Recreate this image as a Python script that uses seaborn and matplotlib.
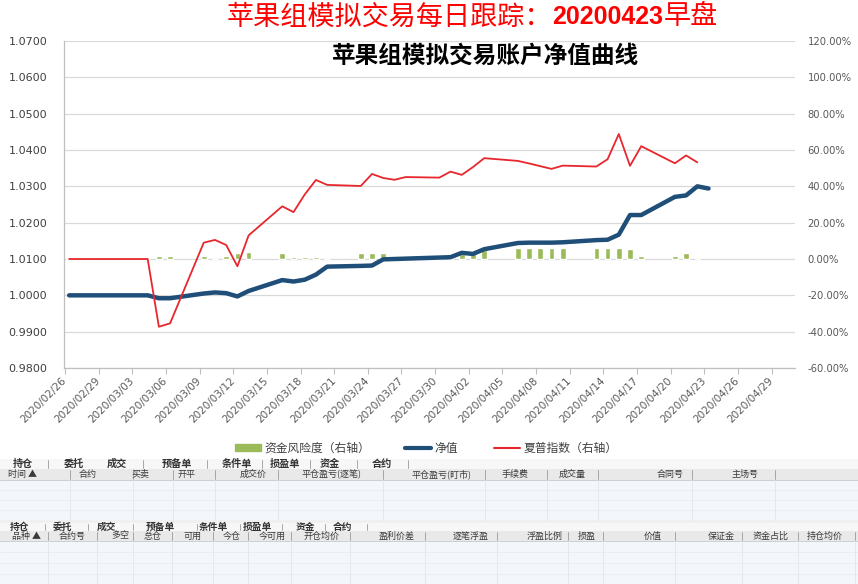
import numpy as np
import pandas as pd
import matplotlib
matplotlib.use('Agg')
import matplotlib.pyplot as plt
import matplotlib.dates as mdates
from matplotlib.lines import Line2D
from matplotlib.patches import Patch, Rectangle
from matplotlib.ticker import FuncFormatter, FormatStrFormatter
import seaborn as sns

# data
dates = ['2020-02-26', '2020-02-27', '2020-02-28', '2020-03-02', '2020-03-03', '2020-03-04',
         '2020-03-05', '2020-03-06', '2020-03-09', '2020-03-10', '2020-03-11', '2020-03-12',
         '2020-03-13', '2020-03-16', '2020-03-17', '2020-03-18', '2020-03-19', '2020-03-20',
         '2020-03-23', '2020-03-24', '2020-03-25', '2020-03-26', '2020-03-27', '2020-03-30',
         '2020-03-31', '2020-04-01', '2020-04-02', '2020-04-03', '2020-04-06', '2020-04-07',
         '2020-04-08', '2020-04-09', '2020-04-10', '2020-04-13', '2020-04-14', '2020-04-15',
         '2020-04-16', '2020-04-17', '2020-04-20', '2020-04-21', '2020-04-22', '2020-04-23']

net_value = [1.0000, 1.0000, 1.0000, 1.0000, 1.0000, 1.0000,
             0.9992, 0.9992, 1.0005, 1.0008, 1.0006, 0.9997,
             1.0012, 1.0042, 1.0038, 1.0043, 1.0057, 1.0079,
             1.0081, 1.0082, 1.0099, 1.0100, 1.0101, 1.0104,
             1.0105, 1.0117, 1.0114, 1.0127, 1.0144, 1.0145,
             1.0145, 1.0145, 1.0146, 1.0152, 1.0153, 1.0167,
             1.0221, 1.0221, 1.0271, 1.0275, 1.0300, 1.0294]

# 夏普指数 (%), right axis
sharpe_pct = [0, 0, 0, 0, 0, 0,
              -37.3, -35.4, 9.0, 10.5, 7.7, -4.0,
              13.0, 29.0, 25.8, 35.5, 43.5, 40.8,
              40.2, 46.8, 44.6, 43.6, 45.1, 44.8,
              48.1, 46.3, 50.6, 55.5, 54.0, 52.6,
              51.1, 49.6, 51.4, 50.9, 54.9, 68.8,
              51.3, 62.1, 52.7, 57.0, 53.2, np.nan]

# 资金风险度 (%), right axis
risk_pct = [0, 0, 0, 0, 0, 0,
            1.5, 1.5, 1.4, 0, 1.4, 3.2,
            4.1, 3.2, 1.3, 1.3, 1.3, 0,
            3.2, 3.2, 3.2, 0, 0, 0,
            0, 3.0, 4.5, 5.2, 6.3, 6.3,
            6.3, 6.3, 6.3, 6.3, 6.3, 6.3,
            5.7, 1.6, 1.6, 3.2, 0, np.nan]

title_cn = '苹果组模拟交易每日跟踪：'
title_num = '20200423'
title_tail = '早盘'
chart_title = '苹果组模拟交易账户净值曲线'
legend_labels = ['资金风险度（右轴）', '净值', '夏普指数（右轴）']

tab_names = ['持仓', '委托', '成交', '预备单', '条件单', '损盈单', '资金', '合约']
trade_cols = ['时间 ▲', '合约', '买卖', '开平', '成交价', '平仓盈亏(逐笔)', '平仓盈亏(盯市)',
              '手续费', '成交量', '合同号', '主场号']
pos_cols = ['品种 ▲', '合约号', '多空', '总仓', '可用', '今仓', '今可用', '开仓均价', '盈利价差',
            '逐笔浮盈', '浮盈比例', '损盈', '价值', '保证金', '资金占比', '持仓均价']

sns.set_theme(style='white')
plt.rcParams['font.family'] = ['DejaVu Sans', 'Noto Sans CJK SC']
CJK = ['Noto Sans CJK SC', 'DejaVu Sans']

df = pd.DataFrame({'date': pd.to_datetime(dates), 'net': net_value,
                   'sharpe': sharpe_pct, 'risk': risk_pct})
# excel date axis puts points a bit right of the day tick
df['xpos'] = df['date'] + pd.Timedelta(hours=9)

W, H = 858, 584
fig = plt.figure(figsize=(W / 100, H / 100), dpi=100)
ax = fig.add_axes([64 / W, 1 - 368 / H, (795 - 64) / W, (368 - 41) / H])
axr = ax.twinx()
axs = ax.twinx()
axr.set_zorder(1)
ax.set_zorder(2)
axs.set_zorder(3)
ax.patch.set_visible(False)

# bars on right axis (behind)
axr.bar(df['xpos'], df['risk'], width=0.5, color='#9BBB59', zorder=3)
axr.set_ylim(-60, 120)
axr.set_yticks(np.arange(-60, 121, 20))
axr.yaxis.set_major_formatter(FuncFormatter(lambda v, p: f'{v:.2f}%'))
axr.tick_params(axis='y', length=0, pad=9, labelsize=7.2, labelcolor='#595959')
axr.grid(axis='y', color='#d9d9d9', linewidth=0.9)
axr.set_axisbelow(True)
for s in axr.spines.values():
    s.set_visible(False)

# net value on left axis
sns.lineplot(data=df, x='xpos', y='net', ax=ax, color='#1F4E79', linewidth=3.2,
             solid_joinstyle='round', solid_capstyle='round')
ax.set_ylim(0.98, 1.07)
ax.set_yticks(np.arange(0.98, 1.0701, 0.01))
ax.yaxis.set_major_formatter(FormatStrFormatter('%.4f'))
ax.tick_params(axis='y', length=0, pad=12, labelsize=8, labelcolor='#404040')
ax.set_xlim(pd.Timestamp('2020-02-25 22:00'), pd.Timestamp('2020-05-01 02:00'))
ax.set_xticks(pd.date_range('2020-02-26', '2020-04-29', freq='3D'))
ax.xaxis.set_major_formatter(mdates.DateFormatter('%Y/%m/%d'))
ax.tick_params(axis='x', length=4, width=0.8, color='#bfbfbf', direction='out', pad=4,
               labelsize=7.5, labelcolor='#595959', bottom=True)
for lab in ax.get_xticklabels():
    lab.set_rotation(45)
    lab.set_ha('right')
    lab.set_va('center')
    lab.set_rotation_mode('anchor')
ax.set_xlabel('')
ax.set_ylabel('')
for k in ['top', 'right']:
    ax.spines[k].set_visible(False)
for k in ['left', 'bottom']:
    ax.spines[k].set_color('#bfbfbf')
    ax.spines[k].set_linewidth(0.9)

# sharpe index on right scale, on top
sns.lineplot(data=df, x='xpos', y='sharpe', ax=axs, color='#E8262D', linewidth=1.3)
axs.set_ylim(-60, 120)
axs.axis('off')
axr.set_ylabel('')

# titles
t1 = fig.text(227 / W, 1 - 17 / H, title_cn, color='#FF0000', fontsize=19.5, family=CJK,
              ha='left', va='center')
t2 = ax.annotate(title_num, xy=(1, 0.5), xycoords=t1, color='#FF0000', fontsize=18,
                 fontweight='bold', family='Liberation Sans', ha='left', va='center',
                 annotation_clip=False)
ax.annotate(title_tail, xy=(1, 0.5), xycoords=t2, color='#FF0000', fontsize=19.5, family=CJK,
            ha='left', va='center', annotation_clip=False)
fig.text(485 / W, 1 - 56 / H, chart_title, fontsize=17, fontweight='bold', family=CJK,
         color='black', ha='center', va='center')

# legend
handles = [Patch(color='#9BBB59'),
           Line2D([], [], color='#1F4E79', lw=3),
           Line2D([], [], color='#E8262D', lw=1.5)]
leg = fig.legend(handles, legend_labels, loc='center', bbox_to_anchor=(426 / W, 1 - 448 / H),
                 ncol=3, frameon=False, prop={'family': CJK, 'size': 8.5},
                 handlelength=2.2, handleheight=0.5, handletextpad=0.3, columnspacing=3.0)
for t in leg.get_texts():
    t.set_color('#404040')

# trading software panel under the chart
tb = fig.add_axes([0, 0, 1, 128 / H])
tb.set_xlim(0, W)
tb.set_ylim(H, 456)
tb.axis('off')


def band(y0, y1, color):
    tb.add_patch(Rectangle((0, y0), W, y1 - y0, facecolor=color, lw=0))


band(459, 469, '#f7f7f7')
band(469, 480, '#e9e9e9')
band(480, 520, '#f3f6fb')
band(520, 523, '#f0f0f0')
band(523, 531, '#f7f7f7')
band(531, 541, '#e9e9e9')
band(541, 584, '#f3f6fb')
for yy in [480, 541]:
    tb.plot([0, W], [yy, yy], color='#c8c8c8', lw=0.6)

tab1_x = [23, 74, 117, 177, 237, 285, 330, 382]
tab1_sep = [48, 143, 207, 262, 310, 357, 408]
tab2_x = [20, 63, 107, 160, 213, 257, 305, 342]
tab2_sep = [45, 88, 133, 197, 240, 282, 325, 367]
for name, x in zip(tab_names, tab1_x):
    tb.text(x, 464, name, family=CJK, fontsize=7.3, color='#333333', ha='center', va='center',
            fontweight='bold')
for name, x in zip(tab_names, tab2_x):
    tb.text(x, 527, name, family=CJK, fontsize=7.0, color='#333333', ha='center', va='center',
            fontweight='bold')
for x in tab1_sep:
    tb.plot([x, x], [460, 468], color='#9a9a9a', lw=0.6)
for x in tab2_sep:
    tb.plot([x, x], [524, 530], color='#9a9a9a', lw=0.6)

hdr1_x = [22, 88, 140, 187, 253, 332, 441, 515, 572, 670, 745]
hdr1_sep = [70, 133, 173, 215, 278, 383, 485, 547, 598, 692, 775]
hdr2_x = [26, 72, 120, 153, 192, 232, 272, 322, 397, 471, 545, 587, 653, 721, 771, 825]
hdr2_sep = [48, 97, 133, 172, 213, 248, 291, 350, 425, 497, 568, 603, 675, 742, 798, 855]
for name, x in zip(trade_cols, hdr1_x):
    tb.text(x, 474.5, name, family=CJK, fontsize=6.5, color='#3a3a3a', ha='center', va='center')
for name, x in zip(pos_cols, hdr2_x):
    tb.text(x, 536, name, family=CJK, fontsize=6.5, color='#3a3a3a', ha='center', va='center')
for x in hdr1_sep:
    tb.plot([x, x], [470, 479], color='#9a9a9a', lw=0.6)
    tb.plot([x, x], [480, 520], color='#dfe5ee', lw=0.6)
for x in hdr2_sep:
    tb.plot([x, x], [532, 540], color='#9a9a9a', lw=0.6)
    tb.plot([x, x], [541, 584], color='#dfe5ee', lw=0.6)
for yy in [490, 500, 510, 552, 563, 574]:
    tb.plot([0, W], [yy, yy], color='#e6ebf3', lw=0.5)

fig.savefig('out.png', dpi=100)
